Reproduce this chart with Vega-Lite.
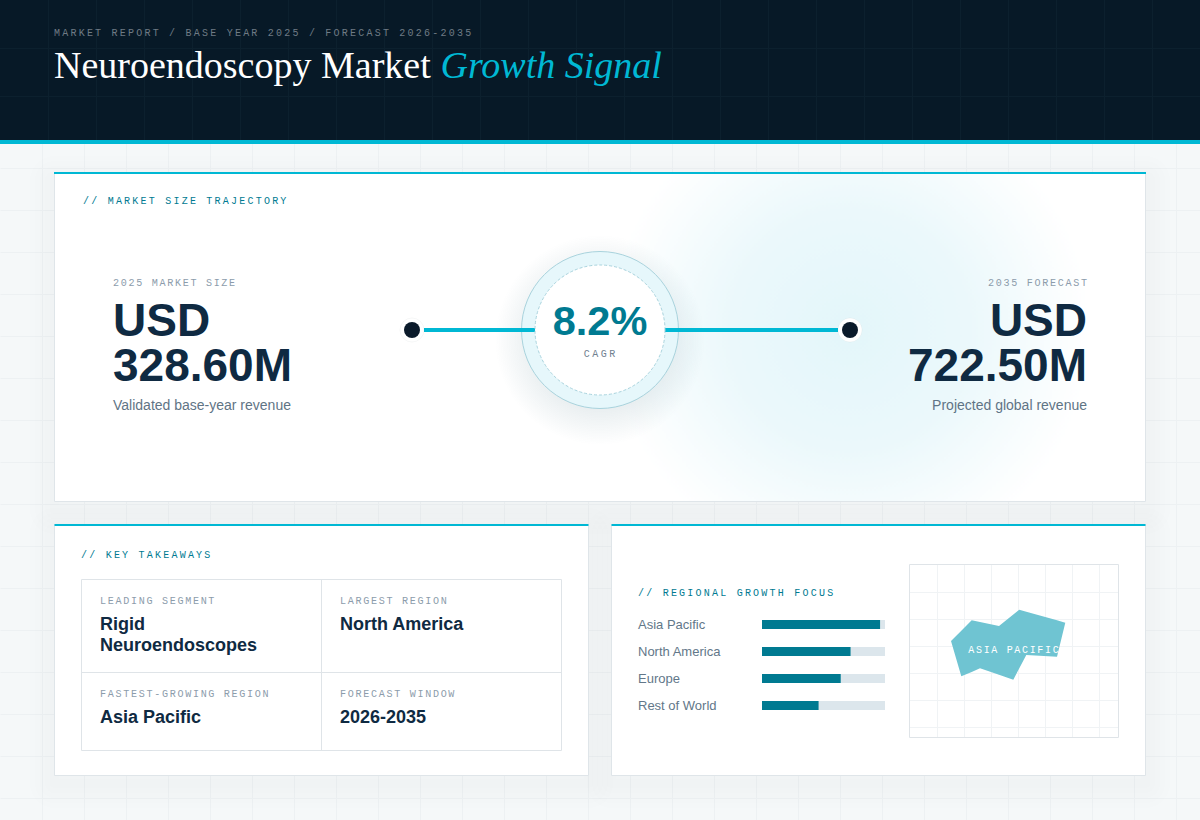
{
  "$schema": "https://vega.github.io/schema/vega-lite/v6.json",
  "autosize": {"type": "none"},
  "width": 1200,
  "height": 820,
  "padding": 0,
  "background": "#f5f8f9",
  "config": {"view": {"stroke": null}},
  "resolve": {"scale": {"x": "independent", "y": "independent"}, "axis": {"x": "independent", "y": "independent"}},
  "datasets": {
    "trajectory": [
      {"year": 2025, "caption": "2\u20060\u20062\u20065\u2006 \u2006M\u2006A\u2006R\u2006K\u2006E\u2006T\u2006 \u2006S\u2006I\u2006Z\u2006E", "amount": "USD\n328.60M", "note": "Validated base-year revenue"},
      {"year": 2035, "caption": "2\u20060\u20063\u20065\u2006 \u2006F\u2006O\u2006R\u2006E\u2006C\u2006A\u2006S\u2006T", "amount": "USD\n722.50M", "note": "Projected global revenue"}
    ],
    "regions": [
      {"region": "Asia Pacific", "growth": 96, "track": 100},
      {"region": "North America", "growth": 72, "track": 100},
      {"region": "Europe", "growth": 64, "track": 100},
      {"region": "Rest of World", "growth": 46, "track": 100}
    ],
    "takeaways": [
      {"col": "a", "row": "a", "label": "L\u2006E\u2006A\u2006D\u2006I\u2006N\u2006G\u2006 \u2006S\u2006E\u2006G\u2006M\u2006E\u2006N\u2006T", "value": "Rigid\nNeuroendoscopes"},
      {"col": "b", "row": "a", "label": "L\u2006A\u2006R\u2006G\u2006E\u2006S\u2006T\u2006 \u2006R\u2006E\u2006G\u2006I\u2006O\u2006N", "value": "North America"},
      {"col": "a", "row": "b", "label": "F\u2006A\u2006S\u2006T\u2006E\u2006S\u2006T\u2006-\u2006G\u2006R\u2006O\u2006W\u2006I\u2006N\u2006G\u2006 \u2006R\u2006E\u2006G\u2006I\u2006O\u2006N", "value": "Asia Pacific"},
      {"col": "b", "row": "b", "label": "F\u2006O\u2006R\u2006E\u2006C\u2006A\u2006S\u2006T\u2006 \u2006W\u2006I\u2006N\u2006D\u2006O\u2006W", "value": "2026-2035"}
    ],
    "apacShape": [
      {"mx": 41, "top": 76, "bottom": 76},
      {"mx": 51.3, "top": 65.7, "bottom": 111.3},
      {"mx": 61.7, "top": 55.3, "bottom": 106.9},
      {"mx": 70, "top": 57, "bottom": 103.3},
      {"mx": 89, "top": 61, "bottom": 109.8},
      {"mx": 103.3, "top": 49.5, "bottom": 114.7},
      {"mx": 109.3, "top": 44.7, "bottom": 103.3},
      {"mx": 116.3, "top": 46.7, "bottom": 90},
      {"mx": 147, "top": 55.3, "bottom": 91.7},
      {"mx": 155.3, "top": 57.7, "bottom": 57.7}
    ],
    "one": [{"k": 1}],
    "cards": [{"card": "takeaways"}, {"card": "regions"}]
  },
  "layer": [
    {
      "data": {"name": "one"},
      "mark": {"type": "rect", "opacity": 0},
      "encoding": {
        "x": {"datum": 0, "type": "quantitative", "scale": {"domain": [0, 1200], "range": [0, 1200]}, "axis": {"grid": true, "gridColor": "#edf1f3", "values": [42,84,126,168,210,252,294,336,378,420,462,504,546,588,630,672,714,756,798,840,882,924,966,1008,1050,1092,1134,1176], "domain": false, "ticks": false, "labels": false, "title": null}},
        "x2": {"datum": 1200},
        "y": {"datum": 0, "type": "quantitative", "scale": {"domain": [0, 820], "range": [0, 820]}, "axis": {"grid": true, "gridColor": "#edf1f3", "values": [42,84,126,168,210,252,294,336,378,420,462,504,546,588,630,672,714,756,798], "domain": false, "ticks": false, "labels": false, "title": null}},
        "y2": {"datum": 820}
      }
    },
    {
      "data": {"name": "one"},
      "mark": {"type": "rect", "fill": "#071927"},
      "encoding": {
        "x": {"datum": 0, "type": "quantitative", "scale": {"domain": [0, 1], "range": [0, 1200]}, "axis": null},
        "x2": {"datum": 1},
        "y": {"datum": 0, "type": "quantitative", "scale": {"domain": [0, 1], "range": [0, 140]}, "axis": null},
        "y2": {"datum": 1}
      }
    },
    {
      "data": {"values": [{"n":1},{"n":2},{"n":3},{"n":4},{"n":5},{"n":6},{"n":7},{"n":8},{"n":9},{"n":10},{"n":11},{"n":12},{"n":13},{"n":14},{"n":15},{"n":16},{"n":17},{"n":18},{"n":19},{"n":20},{"n":21},{"n":22},{"n":23},{"n":24}]},
      "mark": {"type": "rule", "stroke": "#0c202e", "strokeWidth": 1},
      "encoding": {
        "x": {"field": "n", "type": "quantitative", "scale": {"domain": [0, 25], "range": [0.5, 1200.5]}, "axis": null},
        "y": {"datum": 0, "type": "quantitative", "scale": {"domain": [0, 1], "range": [0, 140]}, "axis": null},
        "y2": {"datum": 1}
      }
    },
    {
      "data": {"values": [{"n":1},{"n":2}]},
      "mark": {"type": "rule", "stroke": "#0c202e", "strokeWidth": 1},
      "encoding": {
        "y": {"field": "n", "type": "quantitative", "scale": {"domain": [0, 3], "range": [0.5, 144.5]}, "axis": null},
        "x": {"datum": 0, "type": "quantitative", "scale": {"domain": [0, 1], "range": [0, 1200]}, "axis": null},
        "x2": {"datum": 1}
      }
    },
    {
      "data": {"name": "one"},
      "mark": {"type": "rect", "fill": "#00b8d4"},
      "encoding": {
        "x": {"datum": 0, "type": "quantitative", "scale": {"domain": [0, 1], "range": [0, 1200]}, "axis": null},
        "x2": {"datum": 1},
        "y": {"datum": 0, "type": "quantitative", "scale": {"domain": [0, 1], "range": [140, 144]}, "axis": null},
        "y2": {"datum": 1}
      }
    },
    {
      "data": {"values": [{"k": "a", "t": "M\u205fA\u205fR\u205fK\u205fE\u205fT\u205f \u205fR\u205fE\u205fP\u205fO\u205fR\u205fT\u205f \u205f/\u205f \u205fB\u205fA\u205fS\u205fE\u205f \u205fY\u205fE\u205fA\u205fR\u205f \u205f2\u205f0\u205f2\u205f5\u205f \u205f/\u205f \u205fF\u205fO\u205fR\u205fE\u205fC\u205fA\u205fS\u205fT\u205f \u205f2\u205f0\u205f2\u205f6\u205f-\u205f2\u205f0\u205f3\u205f5"}]},
      "mark": {"type": "text", "font": "Liberation Mono", "fontSize": 10, "fill": "#6f7b85", "align": "left", "baseline": "alphabetic"},
      "encoding": {
        "text": {"field": "t"},
        "x": {"field": "k", "type": "nominal", "scale": {"type": "point", "domain": ["a"], "range": [54, 54]}, "axis": null},
        "y": {"field": "k", "type": "nominal", "scale": {"type": "point", "domain": ["a"], "range": [36, 36]}, "axis": null}
      }
    },
    {
      "data": {"values": [{"k": "a", "t": "Neuroendoscopy Market"}]},
      "mark": {"type": "text", "font": "Liberation Serif", "fontSize": 38, "fill": "#ffffff", "align": "left", "baseline": "alphabetic"},
      "encoding": {
        "text": {"field": "t"},
        "x": {"field": "k", "type": "nominal", "scale": {"type": "point", "domain": ["a"], "range": [54, 54]}, "axis": null},
        "y": {"field": "k", "type": "nominal", "scale": {"type": "point", "domain": ["a"], "range": [78, 78]}, "axis": null}
      }
    },
    {
      "data": {"values": [{"k": "a", "t": "Growth Signal"}]},
      "mark": {"type": "text", "font": "Liberation Serif", "fontSize": 38, "fontStyle": "italic", "fill": "#00b8d4", "align": "left", "baseline": "alphabetic"},
      "encoding": {
        "text": {"field": "t"},
        "x": {"field": "k", "type": "nominal", "scale": {"type": "point", "domain": ["a"], "range": [440.5, 440.5]}, "axis": null},
        "y": {"field": "k", "type": "nominal", "scale": {"type": "point", "domain": ["a"], "range": [78, 78]}, "axis": null}
      }
    },
    {
      "data": {"name": "one"},
      "encoding": {
        "x": {"datum": 0, "type": "quantitative", "scale": {"domain": [0, 1], "range": [54.5, 1145.5]}, "axis": null},
        "x2": {"datum": 1},
        "y": {"datum": 0, "type": "quantitative", "scale": {"domain": [0, 1], "range": [172.5, 501.5]}, "axis": null},
        "y2": {"datum": 1}
      },
      "layer": [
        {"mark": {"type": "rect", "fill": null, "stroke": "#0a2a3c", "strokeOpacity": 0.005, "strokeJoin": "round", "strokeWidth": 50, "yOffset": 8, "y2Offset": 8}},
        {"mark": {"type": "rect", "fill": null, "stroke": "#0a2a3c", "strokeOpacity": 0.005, "strokeJoin": "round", "strokeWidth": 40, "yOffset": 8, "y2Offset": 8}},
        {"mark": {"type": "rect", "fill": null, "stroke": "#0a2a3c", "strokeOpacity": 0.005, "strokeJoin": "round", "strokeWidth": 30, "yOffset": 8, "y2Offset": 8}},
        {"mark": {"type": "rect", "fill": null, "stroke": "#0a2a3c", "strokeOpacity": 0.005, "strokeJoin": "round", "strokeWidth": 20, "yOffset": 8, "y2Offset": 8}},
        {"mark": {"type": "rect", "fill": null, "stroke": "#0a2a3c", "strokeOpacity": 0.005, "strokeJoin": "round", "strokeWidth": 10, "yOffset": 8, "y2Offset": 8}},
        {"mark": {"type": "rect", "fill": "#ffffff"}},
        {"mark": {"type": "rect", "fill": {"gradient": "radial", "x1": 0.729, "y1": 0.4936, "r1": 0, "x2": 0.729, "y2": 0.4936, "r2": 0.22, "stops": [{"offset": 0, "color": "#e3f6fa"}, {"offset": 0.5, "color": "#ebf8fb"}, {"offset": 1, "color": "#ffffff"}]}}},
        {"mark": {"type": "rect", "fill": null, "stroke": "#dfe5e9", "strokeWidth": 1}}
      ]
    },
    {
      "data": {"name": "one"},
      "mark": {"type": "rect", "fill": "#00b8d4"},
      "encoding": {
        "x": {"datum": 0, "type": "quantitative", "scale": {"domain": [0, 1], "range": [54, 1146]}, "axis": null},
        "x2": {"datum": 1},
        "y": {"datum": 0, "type": "quantitative", "scale": {"domain": [0, 1], "range": [172, 174]}, "axis": null},
        "y2": {"datum": 1}
      }
    },
    {
      "data": {"values": [{"k": "a", "t": "/\u205f/\u205f \u205fM\u205fA\u205fR\u205fK\u205fE\u205fT\u205f \u205fS\u205fI\u205fZ\u205fE\u205f \u205fT\u205fR\u205fA\u205fJ\u205fE\u205fC\u205fT\u205fO\u205fR\u205fY"}]},
      "mark": {"type": "text", "font": "Liberation Mono", "fontSize": 10, "fill": "#007a91", "align": "left", "baseline": "alphabetic"},
      "encoding": {
        "text": {"field": "t"},
        "x": {"field": "k", "type": "nominal", "scale": {"type": "point", "domain": ["a"], "range": [83, 83]}, "axis": null},
        "y": {"field": "k", "type": "nominal", "scale": {"type": "point", "domain": ["a"], "range": [204, 204]}, "axis": null}
      }
    },
    {
      "data": {"name": "trajectory"},
      "transform": [{"filter": "datum.year == 2025"}],
      "encoding": {
        "x": {"field": "year", "type": "quantitative", "scale": {"domain": [2025, 2035], "range": [113, 1087]}, "axis": null},
        "y": {"datum": 0, "type": "quantitative", "scale": {"domain": [0, 1], "range": [0, 1]}, "axis": null}
      },
      "layer": [
        {"mark": {"type": "text", "font": "Liberation Mono", "fontSize": 10.1, "fill": "#8c9cab", "align": "left", "baseline": "alphabetic", "yOffset": 286}, "encoding": {"text": {"field": "caption"}}},
        {"mark": {"type": "text", "font": "Liberation Sans", "fontSize": 46, "fontWeight": "bold", "fill": "#0f2a42", "align": "left", "baseline": "alphabetic", "lineBreak": "\n", "lineHeight": 45, "yOffset": 336}, "encoding": {"text": {"field": "amount"}}},
        {"mark": {"type": "text", "font": "Liberation Sans", "fontSize": 14, "fill": "#5f7485", "align": "left", "baseline": "alphabetic", "yOffset": 410}, "encoding": {"text": {"field": "note"}}}
      ]
    },
    {
      "data": {"name": "trajectory"},
      "transform": [{"filter": "datum.year == 2035"}],
      "encoding": {
        "x": {"field": "year", "type": "quantitative", "scale": {"domain": [2025, 2035], "range": [113, 1087]}, "axis": null},
        "y": {"datum": 0, "type": "quantitative", "scale": {"domain": [0, 1], "range": [0, 1]}, "axis": null}
      },
      "layer": [
        {"mark": {"type": "text", "font": "Liberation Mono", "fontSize": 10.1, "fill": "#8c9cab", "align": "right", "baseline": "alphabetic", "yOffset": 286}, "encoding": {"text": {"field": "caption"}}},
        {"mark": {"type": "text", "font": "Liberation Sans", "fontSize": 46, "fontWeight": "bold", "fill": "#0f2a42", "align": "right", "baseline": "alphabetic", "lineBreak": "\n", "lineHeight": 45, "yOffset": 336}, "encoding": {"text": {"field": "amount"}}},
        {"mark": {"type": "text", "font": "Liberation Sans", "fontSize": 14, "fill": "#5f7485", "align": "right", "baseline": "alphabetic", "yOffset": 410}, "encoding": {"text": {"field": "note"}}}
      ]
    },
    {
      "data": {"name": "one"},
      "mark": {"type": "rect", "fill": {"gradient": "radial", "x1": 0.5, "y1": 0.5, "r1": 0.3, "x2": 0.5, "y2": 0.5, "r2": 0.5, "stops": [{"offset": 0, "color": "rgba(10,70,90,0.1)"}, {"offset": 1, "color": "rgba(10,70,90,0)"}]}},
      "encoding": {
        "x": {"datum": 0, "type": "quantitative", "scale": {"domain": [0, 1], "range": [495, 705]}, "axis": null},
        "x2": {"datum": 1},
        "y": {"datum": 0, "type": "quantitative", "scale": {"domain": [0, 1], "range": [235, 445]}, "axis": null},
        "y2": {"datum": 1}
      }
    },
    {
      "data": {"name": "one"},
      "mark": {"type": "point", "shape": "circle", "filled": true, "fill": "#e6f7fb", "stroke": "#a9d3dd", "strokeWidth": 1, "opacity": 1, "size": 24649},
      "encoding": {
        "x": {"datum": 0, "type": "quantitative", "scale": {"domain": [0, 1], "range": [600, 601]}, "axis": null},
        "y": {"datum": 0, "type": "quantitative", "scale": {"domain": [0, 1], "range": [330, 331]}, "axis": null}
      }
    },
    {
      "data": {"name": "trajectory"},
      "transform": [{"aggregate": [{"op": "min", "field": "year", "as": "from"}, {"op": "max", "field": "year", "as": "to"}]}],
      "mark": {"type": "rule", "stroke": "#00b8d4", "strokeWidth": 4},
      "encoding": {
        "x": {"field": "from", "type": "quantitative", "scale": {"domain": [2025, 2035], "range": [424, 838]}, "axis": null},
        "x2": {"field": "to"},
        "y": {"datum": 0, "type": "quantitative", "scale": {"domain": [0, 1], "range": [330, 331]}, "axis": null}
      }
    },
    {
      "data": {"name": "one"},
      "mark": {"type": "point", "shape": "circle", "filled": true, "fill": "#ffffff", "stroke": "#a9d3dd", "strokeWidth": 1, "strokeDash": [3, 2], "opacity": 1, "size": 16900},
      "encoding": {
        "x": {"datum": 0, "type": "quantitative", "scale": {"domain": [0, 1], "range": [600, 601]}, "axis": null},
        "y": {"datum": 0, "type": "quantitative", "scale": {"domain": [0, 1], "range": [330, 331]}, "axis": null}
      }
    },
    {
      "data": {"values": [{"k": "a", "t": "8.2%"}]},
      "mark": {"type": "text", "font": "Liberation Sans", "fontSize": 41.5, "fontWeight": "bold", "fill": "#007a91", "align": "center", "baseline": "alphabetic"},
      "encoding": {
        "text": {"field": "t"},
        "x": {"field": "k", "type": "nominal", "scale": {"type": "point", "domain": ["a"], "range": [600, 600]}, "axis": null},
        "y": {"field": "k", "type": "nominal", "scale": {"type": "point", "domain": ["a"], "range": [335, 335]}, "axis": null}
      }
    },
    {
      "data": {"values": [{"k": "a", "t": "C\u2005A\u2005G\u2005R"}]},
      "mark": {"type": "text", "font": "Liberation Mono", "fontSize": 10, "fill": "#70808f", "align": "center", "baseline": "alphabetic"},
      "encoding": {
        "text": {"field": "t"},
        "x": {"field": "k", "type": "nominal", "scale": {"type": "point", "domain": ["a"], "range": [599.5, 599.5]}, "axis": null},
        "y": {"field": "k", "type": "nominal", "scale": {"type": "point", "domain": ["a"], "range": [357, 357]}, "axis": null}
      }
    },
    {
      "data": {"name": "trajectory"},
      "encoding": {
        "x": {"field": "year", "type": "quantitative", "scale": {"domain": [2025, 2035], "range": [412, 850]}, "axis": null},
        "y": {"datum": 0, "type": "quantitative", "scale": {"domain": [0, 1], "range": [330, 331]}, "axis": null}
      },
      "layer": [
        {"mark": {"type": "point", "shape": "circle", "filled": true, "fill": "#ffffff", "opacity": 1, "size": 576, "stroke": "#0a2a3c", "strokeOpacity": 0.04, "strokeWidth": 1}},
        {"mark": {"type": "point", "shape": "circle", "filled": true, "fill": "#0a1a2a", "opacity": 1, "size": 256}}
      ]
    },
    {
      "data": {"name": "cards"},
      "encoding": {
        "x": {"field": "card", "type": "nominal", "scale": {"type": "band", "domain": ["takeaways", "regions"], "range": [54.5, 1145.5], "paddingInner": 0.0413, "paddingOuter": 0}, "axis": null},
        "y": {"datum": 0, "type": "quantitative", "scale": {"domain": [0, 1], "range": [524.5, 775.5]}, "axis": null},
        "y2": {"datum": 1}
      },
      "layer": [
        {"mark": {"type": "rect", "fill": null, "stroke": "#0a2a3c", "strokeOpacity": 0.005, "strokeJoin": "round", "strokeWidth": 50, "yOffset": 8, "y2Offset": 8}},
        {"mark": {"type": "rect", "fill": null, "stroke": "#0a2a3c", "strokeOpacity": 0.005, "strokeJoin": "round", "strokeWidth": 40, "yOffset": 8, "y2Offset": 8}},
        {"mark": {"type": "rect", "fill": null, "stroke": "#0a2a3c", "strokeOpacity": 0.005, "strokeJoin": "round", "strokeWidth": 30, "yOffset": 8, "y2Offset": 8}},
        {"mark": {"type": "rect", "fill": null, "stroke": "#0a2a3c", "strokeOpacity": 0.005, "strokeJoin": "round", "strokeWidth": 20, "yOffset": 8, "y2Offset": 8}},
        {"mark": {"type": "rect", "fill": null, "stroke": "#0a2a3c", "strokeOpacity": 0.005, "strokeJoin": "round", "strokeWidth": 10, "yOffset": 8, "y2Offset": 8}},
        {"mark": {"type": "rect", "fill": "#ffffff", "stroke": "#dfe5e9", "strokeWidth": 1}}
      ]
    },
    {
      "data": {"name": "cards"},
      "mark": {"type": "rect", "fill": "#00b8d4"},
      "encoding": {
        "x": {"field": "card", "type": "nominal", "scale": {"type": "band", "domain": ["takeaways", "regions"], "range": [54.5, 1145.5], "paddingInner": 0.0413, "paddingOuter": 0}, "axis": null},
        "y": {"datum": 0, "type": "quantitative", "scale": {"domain": [0, 1], "range": [524, 526]}, "axis": null},
        "y2": {"datum": 1}
      }
    },
    {
      "data": {"values": [{"k": "a", "t": "/\u205f/\u205f \u205fK\u205fE\u205fY\u205f \u205fT\u205fA\u205fK\u205fE\u205fA\u205fW\u205fA\u205fY\u205fS"}]},
      "mark": {"type": "text", "font": "Liberation Mono", "fontSize": 10, "fill": "#007a91", "align": "left", "baseline": "alphabetic"},
      "encoding": {
        "text": {"field": "t"},
        "x": {"field": "k", "type": "nominal", "scale": {"type": "point", "domain": ["a"], "range": [81, 81]}, "axis": null},
        "y": {"field": "k", "type": "nominal", "scale": {"type": "point", "domain": ["a"], "range": [558, 558]}, "axis": null}
      }
    },
    {
      "data": {"name": "one"},
      "mark": {"type": "rect", "fill": null, "stroke": "#dfe4e8", "strokeWidth": 1},
      "encoding": {
        "x": {"datum": 0, "type": "quantitative", "scale": {"domain": [0, 1], "range": [81.5, 561.5]}, "axis": null},
        "x2": {"datum": 1},
        "y": {"datum": 0, "type": "quantitative", "scale": {"domain": [0, 1], "range": [579.5, 750.5]}, "axis": null},
        "y2": {"datum": 1}
      }
    },
    {
      "data": {"name": "one"},
      "mark": {"type": "rule", "stroke": "#dfe4e8", "strokeWidth": 1},
      "encoding": {
        "x": {"datum": 0, "type": "quantitative", "scale": {"domain": [0, 1], "range": [321.5, 322.5]}, "axis": null},
        "y": {"datum": 0, "type": "quantitative", "scale": {"domain": [0, 1], "range": [579.5, 750.5]}, "axis": null},
        "y2": {"datum": 1}
      }
    },
    {
      "data": {"name": "one"},
      "mark": {"type": "rule", "stroke": "#dfe4e8", "strokeWidth": 1},
      "encoding": {
        "y": {"datum": 0, "type": "quantitative", "scale": {"domain": [0, 1], "range": [672.5, 673.5]}, "axis": null},
        "x": {"datum": 0, "type": "quantitative", "scale": {"domain": [0, 1], "range": [81.5, 561.5]}, "axis": null},
        "x2": {"datum": 1}
      }
    },
    {
      "data": {"name": "takeaways"},
      "mark": {"type": "text", "font": "Liberation Mono", "fontSize": 10.1, "fill": "#8c9cab", "align": "left", "baseline": "alphabetic"},
      "encoding": {
        "text": {"field": "label"},
        "x": {"field": "col", "type": "nominal", "scale": {"type": "point", "domain": ["a", "b"], "range": [100, 340], "padding": 0}, "axis": null},
        "y": {"field": "row", "type": "nominal", "scale": {"type": "point", "domain": ["a", "b"], "range": [604, 697], "padding": 0}, "axis": null}
      }
    },
    {
      "data": {"name": "takeaways"},
      "mark": {"type": "text", "font": "Liberation Sans", "fontSize": 18, "fontWeight": "bold", "fill": "#0f2a42", "align": "left", "baseline": "alphabetic", "lineBreak": "\n", "lineHeight": 21},
      "encoding": {
        "text": {"field": "value"},
        "x": {"field": "col", "type": "nominal", "scale": {"type": "point", "domain": ["a", "b"], "range": [100, 340], "padding": 0}, "axis": null},
        "y": {"field": "row", "type": "nominal", "scale": {"type": "point", "domain": ["a", "b"], "range": [630, 723], "padding": 0}, "axis": null}
      }
    },
    {
      "data": {"values": [{"k": "a", "t": "/\u205f/\u205f \u205fR\u205fE\u205fG\u205fI\u205fO\u205fN\u205fA\u205fL\u205f \u205fG\u205fR\u205fO\u205fW\u205fT\u205fH\u205f \u205fF\u205fO\u205fC\u205fU\u205fS"}]},
      "mark": {"type": "text", "font": "Liberation Mono", "fontSize": 10, "fill": "#007a91", "align": "left", "baseline": "alphabetic"},
      "encoding": {
        "text": {"field": "t"},
        "x": {"field": "k", "type": "nominal", "scale": {"type": "point", "domain": ["a"], "range": [638, 638]}, "axis": null},
        "y": {"field": "k", "type": "nominal", "scale": {"type": "point", "domain": ["a"], "range": [596, 596]}, "axis": null}
      }
    },
    {
      "data": {"name": "regions"},
      "encoding": {
        "y": {"field": "region", "type": "nominal", "sort": null, "scale": {"type": "band", "domain": ["Asia Pacific", "North America", "Europe", "Rest of World"], "range": [611, 719]}, "axis": null}
      },
      "layer": [
        {"mark": {"type": "bar", "fill": "#dce6ec", "height": 9}, "encoding": {"x": {"field": "track", "type": "quantitative", "scale": {"domain": [0, 100], "range": [762, 885]}, "axis": null}}},
        {"mark": {"type": "bar", "fill": "#007a91", "height": 9}, "encoding": {"x": {"field": "growth", "type": "quantitative", "scale": {"domain": [0, 100], "range": [762, 885]}, "axis": null}}}
      ]
    },
    {
      "data": {"name": "regions"},
      "mark": {"type": "text", "font": "Liberation Sans", "fontSize": 13, "fill": "#627789", "align": "left", "baseline": "middle"},
      "encoding": {
        "text": {"field": "region"},
        "x": {"datum": 0, "type": "quantitative", "scale": {"domain": [0, 1], "range": [638, 639]}, "axis": null},
        "y": {"field": "region", "type": "nominal", "scale": {"type": "band", "domain": ["Asia Pacific", "North America", "Europe", "Rest of World"], "range": [611, 719]}, "axis": null}
      }
    },
    {
      "data": {"name": "one"},
      "mark": {"type": "rect", "fill": "#ffffff", "stroke": "#dfe4e8", "strokeWidth": 1},
      "encoding": {
        "x": {"datum": 0, "type": "quantitative", "scale": {"domain": [0, 1], "range": [909.5, 1118.5]}, "axis": null},
        "x2": {"datum": 1},
        "y": {"datum": 0, "type": "quantitative", "scale": {"domain": [0, 1], "range": [564.5, 737.5]}, "axis": null},
        "y2": {"datum": 1}
      }
    },
    {
      "data": {"values": [{"n":1},{"n":2},{"n":3},{"n":4},{"n":5},{"n":6},{"n":7}]},
      "mark": {"type": "rule", "stroke": "#f0f3f5", "strokeWidth": 1},
      "encoding": {
        "x": {"field": "n", "type": "quantitative", "scale": {"domain": [0, 8], "range": [910.5, 1126.5]}, "axis": null},
        "y": {"datum": 0, "type": "quantitative", "scale": {"domain": [0, 1], "range": [565, 737]}, "axis": null},
        "y2": {"datum": 1}
      }
    },
    {
      "data": {"values": [{"n":1},{"n":2},{"n":3},{"n":4},{"n":5},{"n":6}]},
      "mark": {"type": "rule", "stroke": "#f0f3f5", "strokeWidth": 1},
      "encoding": {
        "y": {"field": "n", "type": "quantitative", "scale": {"domain": [0, 6], "range": [565.5, 727.5]}, "axis": null},
        "x": {"datum": 0, "type": "quantitative", "scale": {"domain": [0, 1], "range": [910, 1118]}, "axis": null},
        "x2": {"datum": 1}
      }
    },
    {
      "data": {"name": "apacShape"},
      "mark": {"type": "area", "fill": "#6fc4d2", "opacity": 1, "interpolate": "linear"},
      "encoding": {
        "x": {"field": "mx", "type": "quantitative", "scale": {"domain": [0, 208], "range": [910, 1118]}, "axis": null},
        "y": {"field": "top", "type": "quantitative", "scale": {"domain": [0, 172], "range": [565, 737]}, "axis": null},
        "y2": {"field": "bottom"}
      }
    },
    {
      "data": {"values": [{"k": "a", "t": "A\u2006S\u2006I\u2006A\u2006 \u2006P\u2006A\u2006C\u2006I\u2006F\u2006I\u2006C"}]},
      "mark": {"type": "text", "font": "Liberation Mono", "fontSize": 10, "fill": "#ffffff", "align": "center", "baseline": "alphabetic"},
      "encoding": {
        "text": {"field": "t"},
        "x": {"field": "k", "type": "nominal", "scale": {"type": "point", "domain": ["a"], "range": [1013.5, 1013.5]}, "axis": null},
        "y": {"field": "k", "type": "nominal", "scale": {"type": "point", "domain": ["a"], "range": [653, 653]}, "axis": null}
      }
    }
  ]
}
